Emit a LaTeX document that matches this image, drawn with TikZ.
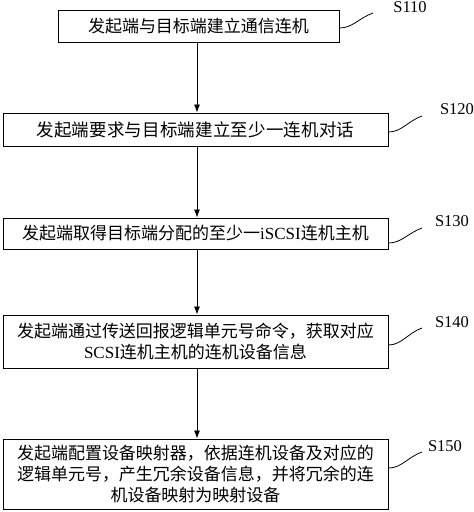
\documentclass[tikz,border=0pt]{standalone}
\usepackage{fontspec}
\setmainfont{Liberation Serif}
\newfontfamily\cjk{Noto Sans CJK SC}
\usetikzlibrary{arrows.meta}
\begin{document}
\begin{tikzpicture}
  [x=1pt,y=-1pt,
   box/.style={draw,line width=1pt,minimum width=385pt,inner sep=0pt,align=center,
     font=\cjk\fontsize{17}{21}\selectfont},
   tag/.style={inner sep=0pt,font=\fontsize{16.5}{18}\selectfont},
   flow/.style={line width=0.8pt,-{Latex[length=8pt,width=6pt]}},
   hook/.style={line width=0.8pt}]
\useasboundingbox (0,0) rectangle (474,512);
\coordinate (ax) at (197,0);
\node (b1)[box,minimum width=281pt,minimum height=32pt] at (198.5,26) {发起端与目标端建立通信连机};
  \node (b2)[box,minimum height=33pt,
    font=\cjk\fontsize{17.5}{22}\selectfont\addfontfeature{LetterSpace=1}] at (195.5,129.5) {发起端要求与目标端建立至少一连机对话};
  \node (b3)[box,minimum height=31pt] at (195.5,233.5) {发起端取得目标端分配的至少一\textrm{iSCSI}连机主机};
  \node (b4)[box,minimum height=53pt] at (195.5,341.5) {发起端通过传送回报逻辑单元号命令，获取对应\\\textrm{SCSI}连机主机的连机设备信息};
  \node (b5)[box,minimum height=70pt] at (195.5,474) {发起端配置设备映射器，依据连机设备及对应的\\逻辑单元号，产生冗余设备信息，并将冗余的连\\机设备映射为映射设备};

\node (l1)[tag] at (410,7) {S110};
  \node (l2)[tag] at (457,109) {S120};
  \node (l3)[tag] at (452,221) {S130};
  \node (l4)[tag] at (452,322) {S140};
  \node (l5)[tag] at (445,446) {S150};
\coordinate (t1) at (373,13);
  \coordinate (t2) at (422,116);
  \coordinate (t3) at (422,228);
  \coordinate (t4) at (422,328);
  \coordinate (t5) at (422,452);

 \foreach \from/\to in {b1/b2,b2/b3,b3/b4,b4/b5}
    \draw[flow] (\from.south -| ax) -- (\to.north -| ax);

 \foreach \from/\dy/\to in {b1/-2/t1,b2/-2.5/t2,b3/-9.5/t3,b4/-3.5/t4,b5/6/t5}
    \draw[hook] ([yshift=\dy pt]\from.east) .. controls +(13,0) and +(-14,5) .. (\to);
\end{tikzpicture}
\end{document}
